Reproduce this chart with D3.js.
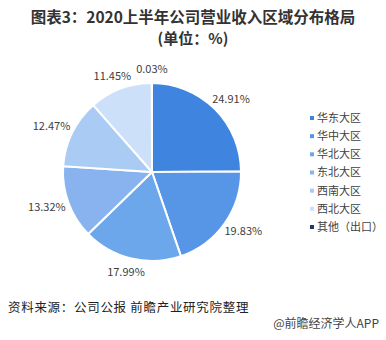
<!DOCTYPE html>
<html>
<head>
<meta charset="utf-8">
<script src="https://cdn.jsdelivr.net/npm/d3@7"></script>
<style>
  body { margin: 0; background: #fff; }
  svg { display: block; font-family: "Noto Sans CJK SC", "Liberation Sans", sans-serif; }
</style>
</head>
<body>
<div class="pieWrapper"></div>
<script>
var regions = ["华东大区", "华中大区", "华北大区", "东北大区", "西南大区", "西北大区", "其他（出口）"];
var shares = [24.91, 19.83, 17.99, 13.32, 12.47, 11.45, 0.03];
var sliceColors = ["#3f85e0", "#5795e6", "#6ca7eb", "#88b3ee", "#a9cbf4", "#cde0f9", "#1f3a6e"];

var width = 386, height = 340;
var cx = 152, cy = 172, radius = 89;

var svg = d3.select(".pieWrapper")
    .append("svg")
    .attr("width", width)
    .attr("height", height);

// title
svg.append("text")
    .attr("x", 193).attr("y", 23)
    .attr("text-anchor", "middle")
    .attr("fill", "#333")
    .style("font-size", "15.5px")
    .style("font-weight", "bold")
    .text("图表3：2020上半年公司营业收入区域分布格局");
svg.append("text")
    .attr("x", 193).attr("y", 44)
    .attr("text-anchor", "middle")
    .attr("fill", "#333")
    .style("font-size", "15px")
    .style("font-weight", "bold")
    .text("(单位：%)");

var data = regions.map(function (r, i) {
    return { region: r, value: shares[i], color: sliceColors[i] };
});

var pie = d3.pie().sort(null).value(function (d) { return d.value; });
var arcs = pie(data);
var arc = d3.arc().innerRadius(0).outerRadius(radius);

var g = svg.append("g").attr("transform", "translate(" + cx + "," + cy + ")");

g.selectAll("path")
    .data(arcs)
    .enter()
    .append("path")
    .attr("d", arc)
    .attr("fill", function (d) { return d.data.color; })
    .attr("stroke", "#fff")
    .attr("stroke-width", 2);

// outside labels
var labelR = radius + 8;
g.selectAll(".lbl")
    .data(arcs)
    .enter()
    .append("text")
    .attr("class", "lbl")
    .attr("text-anchor", "middle")
    .attr("dy", "0.35em")
    .attr("fill", "#404040")
    .style("font-size", "11px")
    .attr("x", function (d) {
        var a = (d.startAngle + d.endAngle) / 2;
        return Math.sin(a) * (labelR + 15);
    })
    .attr("y", function (d) {
        var a = (d.startAngle + d.endAngle) / 2;
        return -Math.cos(a) * (labelR + 6);
    })
    .text(function (d) { return d.data.value.toFixed(2) + "%"; });

// legend
var legendY = d3.scalePoint().domain(regions).range([118, 227]);
var gLeg = svg.selectAll(".leg")
    .data(data)
    .enter()
    .append("g")
    .attr("class", "leg")
    .attr("transform", function (d) { return "translate(310," + legendY(d.region) + ")"; });
gLeg.append("rect")
    .attr("x", 0).attr("y", -2)
    .attr("width", 4).attr("height", 4)
    .attr("fill", function (d) { return d.color; });
gLeg.append("text")
    .attr("x", 7).attr("dy", "0.35em")
    .attr("fill", "#404040")
    .style("font-size", "11px")
    .text(function (d) { return d.region; });

// source
svg.append("text")
    .attr("x", 8).attr("y", 312)
    .attr("fill", "#222")
    .style("font-size", "12.5px")
    .style("letter-spacing", "0.7px")
    .text("资料来源：公司公报 前瞻产业研究院整理");
svg.append("text")
    .attr("x", 379).attr("y", 328)
    .attr("text-anchor", "end")
    .attr("fill", "#444")
    .style("font-size", "12px")
    .text("@前瞻经济学人APP");
</script>
</body>
</html>
